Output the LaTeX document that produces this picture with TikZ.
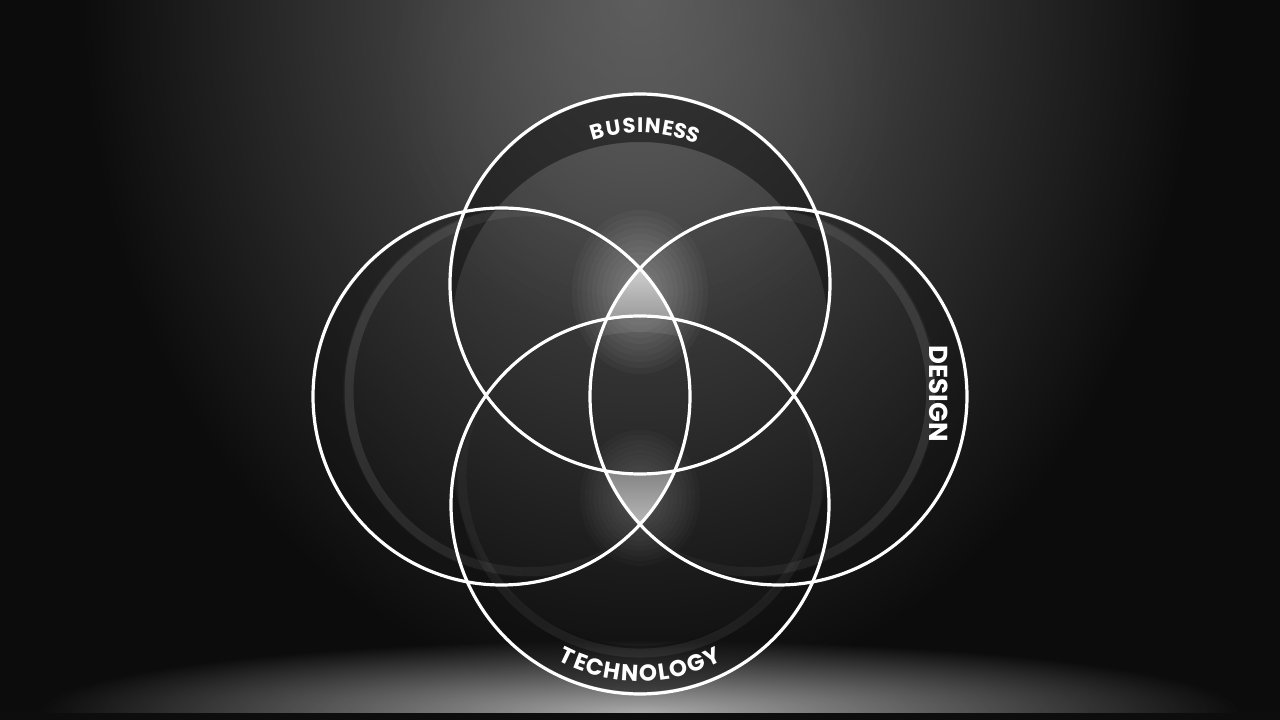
\documentclass[tikz,border=0pt]{standalone}
\usepackage{fontspec}
\newfontfamily\lblfont{Poppins}
\usetikzlibrary{fadings}
\tikzfading[name=softglow, inner color=transparent!0, outer color=transparent!100]
\tikzfading[name=fromleft, left color=transparent!0, right color=transparent!100]
\tikzfading[name=fromright, left color=transparent!100, right color=transparent!0]
\tikzfading[name=frombottom, top color=transparent!100, bottom color=transparent!0]
\definecolor{bgdark}{HTML}{0C0C0C}
\definecolor{bgmid}{HTML}{5E5E5E}
\definecolor{floorlight}{HTML}{C4C4C4}
\definecolor{glassdark}{HTML}{101010}
\definecolor{lenstop}{HTML}{D2D2D2}
\definecolor{lensbot}{HTML}{9A9A9A}
\begin{document}
\begin{tikzpicture}[x=1pt,y=1pt,
  ring/.style={draw=white, line width=3.2pt},
  glass/.style={fill=glassdark, fill opacity=0.55, even odd rule},
  litedge/.style={draw=white, line width=9pt, draw opacity=0.10},
  letterB/.style={text=white, inner sep=0pt, anchor=base, font=\lblfont\bfseries\fontsize{21}{21}\selectfont},
  letterT/.style={text=white, inner sep=0pt, anchor=base, font=\lblfont\bfseries\fontsize{23}{23}\selectfont},
  lbl/.style={text=white, inner sep=0pt}]
\useasboundingbox (0,0) rectangle (1280,720);
% background
\fill[bgdark] (0,0) rectangle (1280,720);
\begin{scope}
  \clip (0,0) rectangle (1280,720);
  \fill[bgmid, path fading=softglow] (640,720) ellipse [x radius=560pt, y radius=700pt];
  \fill[bgmid, path fading=softglow, fill opacity=0.5] (640,640) ellipse [x radius=260pt, y radius=260pt];
  \fill[floorlight, path fading=softglow, fill opacity=0.85] (640,8) ellipse [x radius=600pt, y radius=72pt];
\end{scope}
\fill[black!95] (0,0) rectangle (1280,7);
% centres
\coordinate (cT) at (640,436);
\coordinate (cB) at (640,215);
\coordinate (cL) at (501.5,323.5);
\coordinate (cR) at (778.5,323.5);
% glass crescents
\begin{scope}
  \clip (cT) circle[radius=188pt];
  \fill[glass] (cT) circle[radius=188pt] ([yshift=-46pt]cT) circle[radius=188pt];
\end{scope}
\begin{scope}
  \clip (cB) circle[radius=187pt];
  \fill[glass] (cB) circle[radius=187pt] ([yshift=46pt]cB) circle[radius=187pt];
\end{scope}
\begin{scope}
  \clip (cL) circle[radius=186pt];
  \fill[glass, fill opacity=0.35] (cL) circle[radius=186pt] ([shift={(10:28pt)}]cL) circle[radius=186pt];
  \draw[litedge, path fading=fromleft] ([shift={(10:28pt)}]cL) circle[radius=180pt];
\end{scope}
\begin{scope}
  \clip (cR) circle[radius=186pt];
  \fill[glass, fill opacity=0.35] (cR) circle[radius=186pt] ([shift={(170:28pt)}]cR) circle[radius=186pt];
  \draw[litedge, path fading=fromright] ([shift={(170:28pt)}]cR) circle[radius=180pt];
\end{scope}
\begin{scope}
  \clip (cB) circle[radius=186pt];
  \draw[litedge, draw opacity=0.07, path fading=frombottom] ([yshift=30pt]cB) circle[radius=178pt];
\end{scope}
% glows (stacked soft discs)
\foreach \k in {1,...,12}{
  \fill[white, fill opacity=0.03] (640,428) ellipse [x radius={8+5*\k}, y radius={10+6*\k}];
  \fill[white, fill opacity=0.018] (640,222) ellipse [x radius={6+4.5*\k}, y radius={8+5*\k}];
}
% bright lenses
\begin{scope}
  \clip (cL) circle[radius=188.5pt];
  \clip (cR) circle[radius=188.5pt];
  \clip (0,0) -- (0,720) -- (1280,720) -- (1280,0) -- cycle (cB) circle[radius=189pt];
  \shade[top color=lenstop, bottom color=lensbot] (580,400) rectangle (700,455);
\end{scope}
\begin{scope}
  \clip (cL) circle[radius=188.5pt];
  \clip (cR) circle[radius=188.5pt];
  \clip (0,0) -- (0,720) -- (1280,720) -- (1280,0) -- cycle (cT) circle[radius=190pt];
  \shade[top color=lensbot!85!black, bottom color=lenstop!90!black] (580,190) rectangle (700,250);
\end{scope}
% soft band under the bottom circle's top inside the centre lens
\begin{scope}
  \clip (cL) circle[radius=188.5pt];
  \clip (cR) circle[radius=188.5pt];
  \clip (cB) circle[radius=189pt];
  \draw[white, draw opacity=0.08, line width=14pt] (cB) circle[radius=180pt];
\end{scope}
% outlines
\draw[ring] (cT) circle[radius=190pt];
\draw[ring] (cL) circle[radius=188.5pt];
\draw[ring] (cR) circle[radius=188.5pt];
\draw[ring] (cB) circle[radius=189pt];
% BUSINESS (tops outward, along the top circle)
\foreach \ch/\off [count=\i] in {B/-2.30, U/-1.54, S/-0.81, I/-0.29, N/0.29, E/0.98, S/1.57, S/2.17}{
  \pgfmathsetmacro\ang{87.6-\off*7.9}
  \node[letterB, rotate=\ang-90] (bus\i) at ([shift={(\ang:151pt)}]cT) {\ch};
}
% TECHNOLOGY (tops inward, along the bottom circle)
\foreach \ch/\off [count=\i] in {T/-3.455, E/-2.795, C/-2.085, H/-1.29, N/-0.475, O/0.365, L/1.085, O/1.805, G/2.655, Y/3.435}{
  \pgfmathsetmacro\ang{270+\off*7.4}
  \node[letterT, rotate=\ang+90] (tech\i) at ([shift={(\ang:176pt)}]cB) {\ch};
}
% DESIGN
\node[lbl, rotate=-90, font=\lblfont\bfseries\fontsize{26}{26}\selectfont] (design) at (939,326) {DESIGN};
\end{tikzpicture}
\end{document}
